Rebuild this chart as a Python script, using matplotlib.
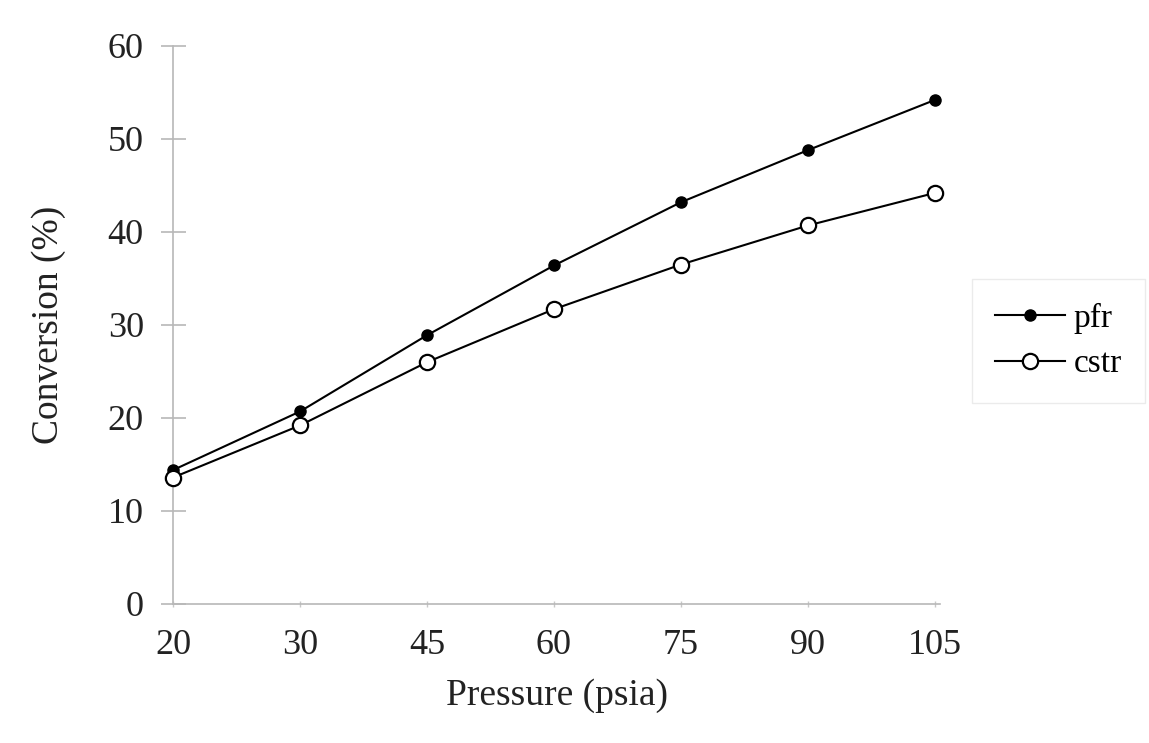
import matplotlib.pyplot as plt

pressure = ['20', '30', '45', '60', '75', '90', '105']
pfr = [14.4, 20.7, 28.9, 36.4, 43.2, 48.8, 54.2]
cstr = [13.6, 19.2, 26.0, 31.7, 36.5, 40.7, 44.2]

plt.rcParams['font.family'] = ['Liberation Serif', 'DejaVu Serif']

fig = plt.figure(figsize=(11.49, 7.43), dpi=100)
ax = fig.add_axes([0.1506, 0.1871, 0.6675, 0.751])

x = list(range(len(pressure)))
ax.plot(x, pfr, color='black', lw=1.5, marker='o', ms=8,
        mfc='black', mec='black', label='pfr', clip_on=False, zorder=3)
ax.plot(x, cstr, color='black', lw=1.5, marker='o', ms=11,
        mfc='white', mec='black', mew=1.6, label='cstr', clip_on=False, zorder=3)

ax.set_xlim(0, 6.04)
ax.set_ylim(0, 60)
ax.set_xticks(x)
ax.set_xticklabels(pressure)
ax.set_yticks(range(0, 61, 10))

for s in ['top', 'right']:
    ax.spines[s].set_visible(False)
for s in ['left', 'bottom']:
    ax.spines[s].set_color('#b8b8b8')
    ax.spines[s].set_linewidth(1.2)

ax.tick_params(axis='y', direction='inout', length=18, color='#b8b8b8',
               width=1.2, pad=12, labelsize=26, labelcolor='#222222')
ax.tick_params(axis='x', direction='inout', length=4, color='#c8c8c8',
               width=1, pad=16, labelsize=26, labelcolor='#222222')

ax.set_xlabel('Pressure (psia)', fontsize=27, color='#222222', labelpad=12)
ax.set_ylabel('Conversion (%)', fontsize=27, color='#222222', labelpad=30)

leg = ax.legend(loc='upper left', bbox_to_anchor=(0.846, 0.624),
                bbox_transform=fig.transFigure, borderaxespad=0,
                fontsize=24, frameon=True, fancybox=False, handlelength=2.1,
                handletextpad=0.25, borderpad=0.7, labelspacing=0.45)
leg.get_frame().set_edgecolor('#e6e6e6')
leg.get_frame().set_linewidth(1)

fig.savefig('out.png', dpi=100)
